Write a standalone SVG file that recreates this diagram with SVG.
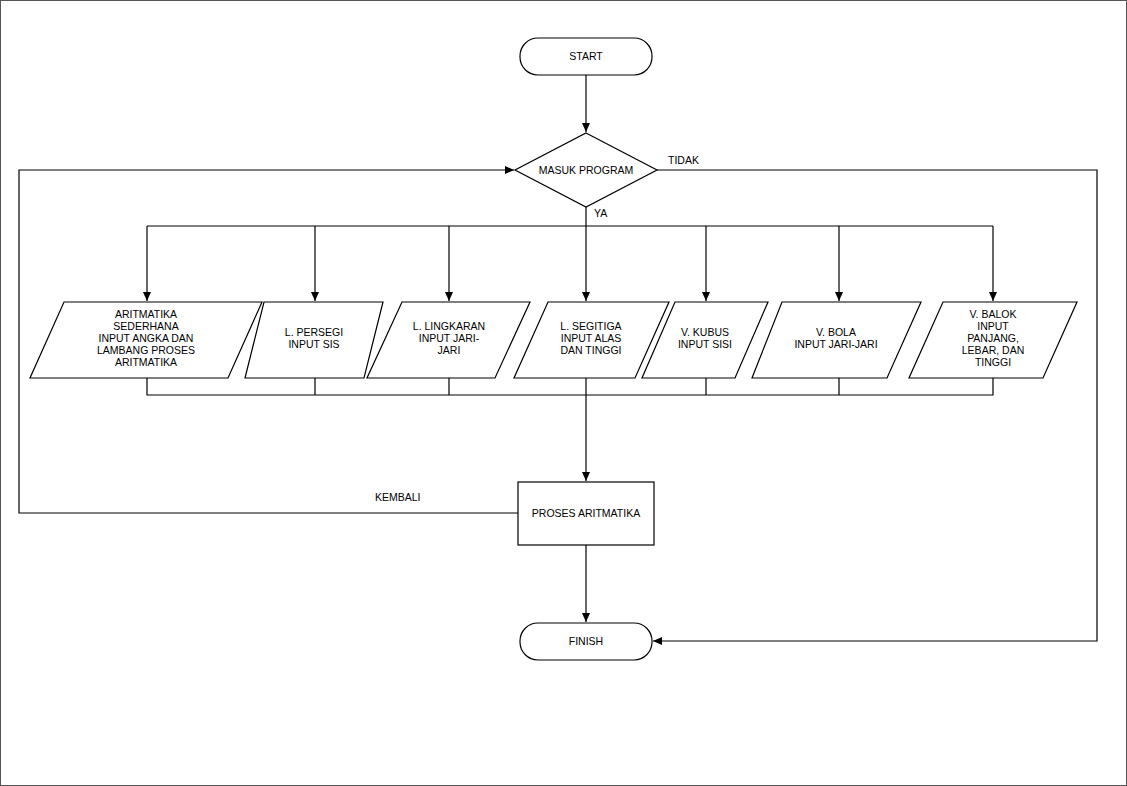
<svg xmlns="http://www.w3.org/2000/svg" width="1127" height="786" viewBox="0 0 1127 786">
<style>
.s{fill:#fff;stroke:#000;stroke-width:1.2}
.c{fill:none;stroke:#000;stroke-width:1.2}
.t{font-family:"Liberation Sans",Arial,sans-serif;font-size:10.5px;text-anchor:middle;fill:#000}
.l{font-family:"Liberation Sans",Arial,sans-serif;font-size:10.5px;fill:#000}
</style>
<defs><marker id="a" markerWidth="10" markerHeight="10" refX="9" refY="5" orient="auto" markerUnits="userSpaceOnUse"><path d="M0,1 L9,5 L0,9 Z" fill="#000"/></marker></defs>
<rect x="0.5" y="0.5" width="1126" height="785" fill="#fff" stroke="#555"/>
<g id="connectors">
<path class="c" d="M586,75 V132" marker-end="url(#a)"/>
<path class="c" d="M586,207 V226 M147,226 H993"/>
<path class="c" d="M147,226 V301" marker-end="url(#a)"/>
<path class="c" d="M315,226 V301" marker-end="url(#a)"/>
<path class="c" d="M449,226 V301" marker-end="url(#a)"/>
<path class="c" d="M586,226 V301" marker-end="url(#a)"/>
<path class="c" d="M706,226 V301" marker-end="url(#a)"/>
<path class="c" d="M839,226 V301" marker-end="url(#a)"/>
<path class="c" d="M993,226 V301" marker-end="url(#a)"/>
<path class="c" d="M147,378 V395 H993 V378 M315,378 V395 M449,378 V395 M586,378 V395 M706,378 V395 M839,378 V395"/>
<path class="c" d="M586,395 V481" stroke-width="2" marker-end="url(#a)"/>
<path class="c" d="M586,545 V622" marker-end="url(#a)"/>
<path class="c" d="M518,513 H19 V170 H514" marker-end="url(#a)"/>
<path class="c" d="M657,170 H1097 V641 H653" marker-end="url(#a)"/>
<text class="l" x="594" y="217">YA</text>
<text class="l" x="668" y="164">TIDAK</text>
<text class="l" x="375" y="501">KEMBALI</text>
</g>
<g id="start"><rect class="s" x="520" y="38" width="132" height="37" rx="18"/><text class="t" x="586" y="60">START</text></g>
<g id="masuk"><polygon class="s" points="586,133 657,170 586,207 515,170"/><text class="t" x="586" y="174">MASUK PROGRAM</text></g>
<g id="n1"><polygon class="s" points="64,302 262,302 228,378 30,378"/><text class="t" x="146" y="318">ARITMATIKA</text><text class="t" x="146" y="330">SEDERHANA</text><text class="t" x="146" y="342">INPUT ANGKA DAN</text><text class="t" x="146" y="354">LAMBANG PROSES</text><text class="t" x="146" y="366">ARITMATIKA</text></g>
<g id="n2"><polygon class="s" points="264,302 383,302 364,378 245,378"/><text class="t" x="314" y="336">L. PERSEGI</text><text class="t" x="314" y="348">INPUT SIS</text></g>
<g id="n3"><polygon class="s" points="402,302 530,302 495,378 367,378"/><text class="t" x="449" y="330">L. LINGKARAN</text><text class="t" x="449" y="342">INPUT JARI-</text><text class="t" x="449" y="354">JARI</text></g>
<g id="n4"><polygon class="s" points="548,302 669,302 635,378 514,378"/><text class="t" x="591" y="330">L. SEGITIGA</text><text class="t" x="591" y="342">INPUT ALAS</text><text class="t" x="591" y="354">DAN TINGGI</text></g>
<g id="n5"><polygon class="s" points="675,302 768,302 735,378 642,378"/><text class="t" x="705" y="336">V. KUBUS</text><text class="t" x="705" y="348">INPUT SISI</text></g>
<g id="n6"><polygon class="s" points="782,302 921,302 887,378 752,378"/><text class="t" x="836" y="336">V. BOLA</text><text class="t" x="836" y="348">INPUT JARI-JARI</text></g>
<g id="n7"><polygon class="s" points="943,302 1077,302 1043,378 909,378"/><text class="t" x="993" y="318">V. BALOK</text><text class="t" x="993" y="330">INPUT</text><text class="t" x="993" y="342">PANJANG,</text><text class="t" x="993" y="354">LEBAR, DAN</text><text class="t" x="993" y="366">TINGGI</text></g>
<g id="proses"><rect class="s" x="518" y="482" width="136" height="63"/><text class="t" x="586" y="517">PROSES ARITMATIKA</text></g>
<g id="finish"><rect class="s" x="520" y="623" width="132" height="37" rx="18"/><text class="t" x="586" y="645">FINISH</text></g>
</svg>
